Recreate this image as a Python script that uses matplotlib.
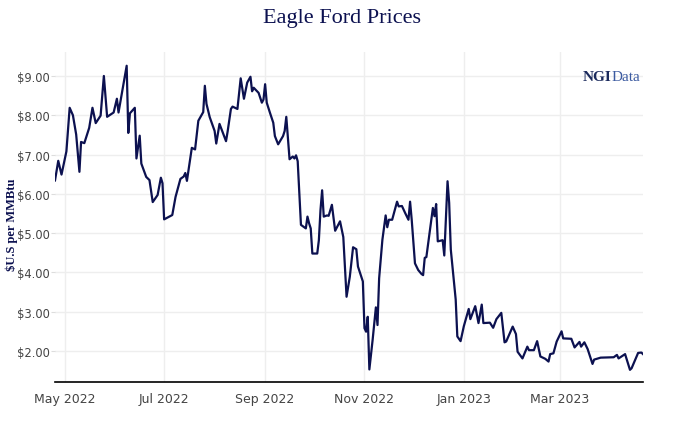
import datetime as dt

import matplotlib
matplotlib.use("Agg")
import matplotlib.dates as mdates
import matplotlib.pyplot as plt
from matplotlib.ticker import FuncFormatter

TITLE = "Eagle Ford Prices"
Y_LABEL = "$U.S per MMBtu"

# price points (date, $/MMBtu)
DATES = [
    "2022-04-25", "2022-04-27", "2022-04-29", "2022-05-02", "2022-05-04", "2022-05-06",
    "2022-05-08", "2022-05-10", "2022-05-11", "2022-05-13", "2022-05-16", "2022-05-18",
    "2022-05-20", "2022-05-23", "2022-05-25", "2022-05-27", "2022-05-31", "2022-06-02",
    "2022-06-03", "2022-06-08", "2022-06-09", "2022-06-10", "2022-06-13", "2022-06-14",
    "2022-06-16", "2022-06-17", "2022-06-20", "2022-06-22", "2022-06-24", "2022-06-27",
    "2022-06-29", "2022-06-30", "2022-07-01", "2022-07-06", "2022-07-08", "2022-07-11",
    "2022-07-13", "2022-07-14", "2022-07-15", "2022-07-18", "2022-07-20", "2022-07-22",
    "2022-07-25", "2022-07-26", "2022-07-27", "2022-07-29", "2022-08-01", "2022-08-02",
    "2022-08-04", "2022-08-08", "2022-08-09", "2022-08-11", "2022-08-12", "2022-08-15",
    "2022-08-17", "2022-08-19", "2022-08-21", "2022-08-23", "2022-08-24", "2022-08-25",
    "2022-08-28", "2022-08-30", "2022-08-31", "2022-09-01", "2022-09-02", "2022-09-04",
    "2022-09-06", "2022-09-07", "2022-09-09", "2022-09-12", "2022-09-13", "2022-09-14",
    "2022-09-16", "2022-09-18", "2022-09-19", "2022-09-20", "2022-09-21", "2022-09-23",
    "2022-09-25", "2022-09-26", "2022-09-27", "2022-09-28", "2022-09-29", "2022-09-30",
    "2022-10-03", "2022-10-04", "2022-10-05", "2022-10-06", "2022-10-07", "2022-10-09",
    "2022-10-10", "2022-10-12", "2022-10-14", "2022-10-17", "2022-10-19", "2022-10-21",
    "2022-10-23", "2022-10-25", "2022-10-27", "2022-10-28", "2022-10-31", "2022-11-01",
    "2022-11-02", "2022-11-03", "2022-11-04", "2022-11-06", "2022-11-08", "2022-11-09",
    "2022-11-10", "2022-11-12", "2022-11-14", "2022-11-15", "2022-11-16", "2022-11-18",
    "2022-11-21", "2022-11-22", "2022-11-24", "2022-11-26", "2022-11-28", "2022-11-29",
    "2022-11-30", "2022-12-02", "2022-12-04", "2022-12-06", "2022-12-07", "2022-12-08",
    "2022-12-09", "2022-12-13", "2022-12-14", "2022-12-15", "2022-12-16", "2022-12-19",
    "2022-12-20", "2022-12-22", "2022-12-23", "2022-12-24", "2022-12-27", "2022-12-28",
    "2022-12-30", "2023-01-01", "2023-01-04", "2023-01-05", "2023-01-08", "2023-01-10",
    "2023-01-12", "2023-01-13", "2023-01-17", "2023-01-19", "2023-01-21", "2023-01-24",
    "2023-01-26", "2023-01-27", "2023-01-31", "2023-02-02", "2023-02-03", "2023-02-06",
    "2023-02-09", "2023-02-10", "2023-02-13", "2023-02-15", "2023-02-17", "2023-02-20",
    "2023-02-22", "2023-02-23", "2023-02-25", "2023-02-27", "2023-03-02", "2023-03-03",
    "2023-03-08", "2023-03-10", "2023-03-13", "2023-03-14", "2023-03-16", "2023-03-18",
    "2023-03-21", "2023-03-22", "2023-03-26", "2023-04-03", "2023-04-05", "2023-04-06",
    "2023-04-10", "2023-04-13", "2023-04-14", "2023-04-18", "2023-04-20", "2023-04-21",
]
PRICES = [
    6.34, 6.84, 6.49, 7.08, 8.19, 8.00,
    7.51, 6.56, 7.32, 7.29, 7.68, 8.19,
    7.80, 7.99, 9.00, 7.96, 8.07, 8.42,
    8.07, 9.26, 7.55, 8.05, 8.19, 6.90,
    7.48, 6.77, 6.43, 6.35, 5.79, 5.97,
    6.41, 6.27, 5.35, 5.46, 5.92, 6.38,
    6.44, 6.53, 6.33, 7.17, 7.13, 7.86,
    8.08, 8.75, 8.29, 7.95, 7.60, 7.28,
    7.78, 7.34, 7.59, 8.16, 8.22, 8.16,
    8.94, 8.42, 8.83, 8.98, 8.61, 8.70,
    8.57, 8.32, 8.40, 8.79, 8.32, 8.06,
    7.81, 7.47, 7.26, 7.47, 7.60, 7.96,
    6.88, 6.95, 6.90, 6.98, 6.83, 5.21,
    5.15, 5.12, 5.42, 5.25, 5.12, 4.48,
    4.48, 4.82, 5.59, 6.09, 5.42, 5.45,
    5.44, 5.72, 5.06, 5.30, 4.90, 3.38,
    3.89, 4.64, 4.59, 4.15, 3.77, 2.58,
    2.49, 2.87, 1.53, 2.28, 3.11, 2.66,
    3.85, 4.83, 5.45, 5.15, 5.34, 5.34,
    5.80, 5.68, 5.69, 5.51, 5.34, 5.80,
    5.34, 4.23, 4.06, 3.96, 3.93, 4.37,
    4.39, 5.64, 5.43, 5.74, 4.79, 4.82,
    4.43, 6.32, 5.77, 4.58, 3.31, 2.37,
    2.25, 2.63, 3.07, 2.81, 3.14, 2.71,
    3.18, 2.71, 2.72, 2.59, 2.81, 2.97,
    2.22, 2.24, 2.62, 2.43, 1.98, 1.81,
    2.11, 2.02, 2.02, 2.25, 1.86, 1.80,
    1.73, 1.92, 1.94, 2.24, 2.50, 2.32,
    2.31, 2.09, 2.23, 2.11, 2.22, 2.05,
    1.67, 1.78, 1.83, 1.84, 1.90, 1.81,
    1.92, 1.52, 1.56, 1.95, 1.96, 1.92,
]
Y_TICKS = [2, 3, 4, 5, 6, 7, 8, 9]
X_TICKS = ["2022-05-01", "2022-07-01", "2022-09-01", "2022-11-01", "2023-01-01", "2023-03-01"]

NAVY = "#0c1150"
GRID = "#eeeeee"
TICK_TEXT = "#444444"

dates = [dt.datetime.strptime(d, "%Y-%m-%d") for d in DATES]

fig = plt.figure(figsize=(6.84, 4.27), dpi=100)
ax = fig.add_axes([55 / 684, 1 - 383 / 427, 588 / 684, 330 / 427])

ax.plot(dates, PRICES, color=NAVY, linewidth=1.6, solid_joinstyle="round", zorder=3)

ax.set_xlim(dates[0], dates[-1])
ax.set_ylim(1.21, 9.61)

ax.set_yticks(Y_TICKS)
ax.yaxis.set_major_formatter(FuncFormatter(lambda v, _: f"${v:.2f}"))
ax.set_xticks([dt.datetime.strptime(d, "%Y-%m-%d") for d in X_TICKS])
ax.xaxis.set_major_formatter(mdates.DateFormatter("%b %Y"))

ax.grid(True, color=GRID, linewidth=1.0, zorder=0)
ax.set_axisbelow(True)
for side in ("top", "right", "left"):
    ax.spines[side].set_visible(False)
ax.spines["bottom"].set_color("#000000")
ax.spines["bottom"].set_linewidth(1.2)

ax.tick_params(axis="y", length=3, color="#dddddd", labelsize=8.3, labelcolor=TICK_TEXT, pad=1)
ax.tick_params(axis="x", length=0, labelsize=9, labelcolor=TICK_TEXT, pad=7)

fig.text(12 / 684, 1 - 225 / 427, Y_LABEL, rotation=90, ha="center", va="center",
         family="Liberation Serif", fontweight="bold", fontsize=9, color=NAVY)

fig.text(0.5, 1 - 18 / 427, TITLE, ha="center", va="center",
         family="Liberation Serif", fontsize=16, color=NAVY)

# NGI Data mark, top right inside the plot
ax.text(0.947, 0.927, "NGI", transform=ax.transAxes, ha="right", va="center",
        family="Liberation Serif", fontweight="bold", fontsize=11, color="#1b2a5c")
ax.text(0.947, 0.927, "Data", transform=ax.transAxes, ha="left", va="center",
        family="Liberation Serif", fontsize=11, color="#3b5aa0")

fig.savefig("out.png", dpi=100)
